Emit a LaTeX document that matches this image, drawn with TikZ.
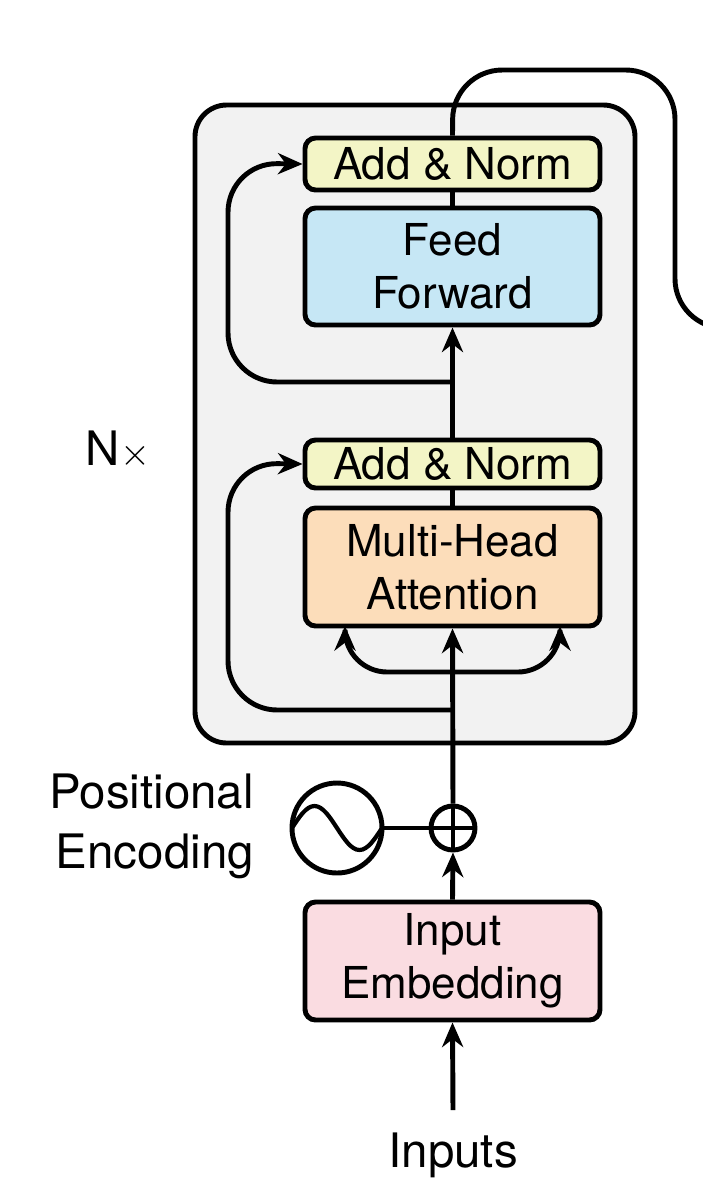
\documentclass[tikz,border=0pt]{standalone}
\usepackage{fontspec}
\setmainfont{TeX Gyre Heros}
\usetikzlibrary{arrows.meta}
\definecolor{bgbox}{HTML}{F2F2F2}
\definecolor{addn}{HTML}{F3F5C6}
\definecolor{ffc}{HTML}{C6E7F5}
\definecolor{mhac}{HTML}{FCDDBA}
\definecolor{embc}{HTML}{FADCE1}
\begin{document}
\begin{tikzpicture}[x=0.01cm,y=-0.01cm,line width=1.4pt,
  blk/.style={draw,rounded corners=3pt,minimum width=295*0.01cm,inner sep=0pt,align=center,font=\fontsize{12.5}{15}\selectfont},
  arr/.style={-{Stealth[length=7pt,width=6pt]}},
  lbl/.style={font=\fontsize{12.5}{15}\selectfont,align=center}]
\useasboundingbox (0,0) rectangle (702,1199);
\node[draw,fill=bgbox,rounded corners=9pt,minimum width=440*0.01cm,minimum height=638*0.01cm] (enc) at (415,424) {};
\node[blk,fill=addn,minimum height=52*0.01cm] (an1) at (452.5,164) {Add \& Norm};
\node[blk,fill=ffc,minimum height=117*0.01cm] (ff) at (452.5,266.5) {Feed\\Forward};
\node[blk,fill=addn,minimum height=48*0.01cm] (an2) at (452.5,464) {Add \& Norm};
\node[blk,fill=mhac,minimum height=118*0.01cm] (mha) at (452.5,567) {Multi-Head\\Attention};
\node[blk,fill=embc,minimum height=118*0.01cm] (emb) at (452.5,961) {Input\\Embedding};
\node[draw,circle,minimum size=44*0.01cm,inner sep=0pt] (plus) at (453,828) {};
\draw[line width=1.2pt] (plus.north) -- (plus.south) (plus.west) -- (plus.east);
\node[draw,circle,minimum size=90*0.01cm,inner sep=0pt] (pe) at (337,828) {};
\draw[line width=1.2pt] (292,828) sin (314.5,806) cos (337,828) sin (359.5,850) cos (382,828);
\node[lbl,font=\fontsize{13.5}{16}\selectfont] (nx) at (118,450) {N{\fontsize{11}{13}\selectfont$\times$}};
\node[lbl,align=right,anchor=east,font=\fontsize{13.5}{17}\selectfont] (pel) at (268,826) {Positional\\Encoding};
\node[lbl,font=\fontsize{13.5}{16}\selectfont] (inp) at (453,1155) {Inputs};
\coordinate (in0) at (453,1110);
\draw[arr] (in0) -- (emb.south);
\draw[arr] (emb.north) -- (plus.south);
\draw (pe.east) -- (plus.west);
\draw[arr] (plus.north) -- (mha.south);
\coordinate (br) at (453,672);
\draw[arr,rounded corners=12pt] (br) -| (345,626);
\draw[arr,rounded corners=12pt] (br) -| (560,626);
\coordinate (r1) at (453,710);
\draw[arr,rounded corners=14pt] (r1) -- (228,710) -- (228,463) -- (an2.west);
\draw (mha.north) -- (an2.south);
\draw[arr] (an2.north) -- (ff.south);
\coordinate (r2) at (453,382);
\draw[arr,rounded corners=14pt] (r2) -- (228,382) -- (228,163) -- (an1.west);
\draw (ff.north) -- (an1.south);
\coordinate (out) at (710,328);
\draw[rounded corners=14pt] (an1.north) -- (453,70) -- (675,70) -- (675,328) -- (out);
\end{tikzpicture}
\end{document}
